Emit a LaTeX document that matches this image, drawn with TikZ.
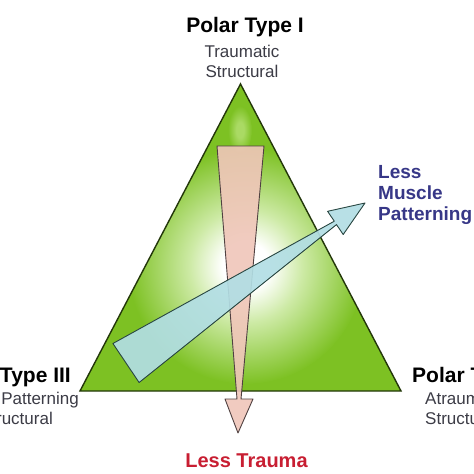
\documentclass[tikz,border=0pt]{standalone}
\usepackage{fontspec}
\setmainfont{Liberation Sans}
\definecolor{tgreen}{RGB}{125,193,35}
\definecolor{midgreen}{RGB}{205,234,165}
\definecolor{hlgreen}{RGB}{170,218,100}
\definecolor{tborder}{RGB}{35,55,10}
\definecolor{redfill}{RGB}{240,198,186}
\definecolor{redline}{RGB}{80,65,65}
\definecolor{bluefill}{RGB}{178,222,228}
\definecolor{blueline}{RGB}{40,70,65}
\definecolor{subgray}{RGB}{60,60,70}
\definecolor{musclecol}{RGB}{55,55,135}
\definecolor{traumacol}{RGB}{200,30,50}
\pgfdeclareradialshading{glow}{\pgfpoint{0bp}{0bp}}{color(0bp)=(white); color(5bp)=(white); color(12bp)=(midgreen); color(25bp)=(tgreen); color(50bp)=(tgreen)}
\pgfdeclareradialshading{tophl}{\pgfpoint{0bp}{0bp}}{color(0bp)=(hlgreen); color(8bp)=(hlgreen); color(25bp)=(tgreen); color(50bp)=(tgreen)}
\tikzset{
  title/.style={font=\fontsize{21}{21}\selectfont\bfseries, text=black, inner sep=0pt},
  sublabel/.style={font=\fontsize{17}{17}\selectfont, text=subgray, inner sep=0pt},
  muscle/.style={font=\fontsize{19}{19}\selectfont\bfseries, text=musclecol, inner sep=0pt},
  trauma/.style={font=\fontsize{20}{20}\selectfont\bfseries, text=traumacol, inner sep=0pt},
  redarrow/.style={fill=redfill, fill opacity=0.9, draw=redline, line width=0.9pt, line join=round},
  bluearrow/.style={fill=bluefill, fill opacity=0.92, draw=blueline, line width=0.9pt, line join=round},
}
\begin{document}
\begin{tikzpicture}[x=1pt,y=-1pt]
\useasboundingbox (0,0) rectangle (474,474);
\clip (0,0) rectangle (474,474);
\fill[white] (0,0) rectangle (474,474);
% triangle
\coordinate (apex) at (240.5,84);
\coordinate (bl) at (80,391);
\coordinate (br) at (401,391);
\begin{scope}
  \clip (apex) -- (br) -- (bl) -- cycle;
  \fill[tgreen] (0,0) rectangle (474,474);
  \shade[shading=glow] (246,266) circle (118);
  \shade[shading=tophl] (240,130) ellipse (12 and 24);
\end{scope}
\draw[tborder, line width=1.4pt, line join=miter] (apex) -- (br) -- (bl) -- cycle;
% red arrow (Less Trauma)
\draw[redarrow] (217,146) -- (264,146) -- (241,399) -- (253,399) -- (238,433) -- (225,399) -- (237,399) -- cycle;
% blue arrow (Less Muscle Patterning)
\draw[bluearrow] (112.9,343.5) -- (139.1,382.5) -- (336.5,224.6) -- (343.2,234.5) -- (365,203) -- (327.6,211.3) -- (334.3,221.2) -- cycle;
% labels
\node[title, anchor=base] (t1) at (245,32) {Polar Type I};
\node[sublabel, anchor=base] (t1a) at (242,57) {Traumatic};
\node[sublabel, anchor=base] (t1b) at (242,77) {Structural};
\node[title, anchor=base east] (t3) at (71,382) {Polar Type III};
\node[sublabel, anchor=base east] (t3a) at (79,404) {Muscle Patterning};
\node[sublabel, anchor=base east] (t3b) at (53,424) {Non-Structural};
\node[title, anchor=base west] (t2) at (412,382) {Polar Type II};
\node[sublabel, anchor=base west] (t2a) at (425,404) {Atraumatic};
\node[sublabel, anchor=base west] (t2b) at (425,424) {Structural};
\node[muscle, anchor=base west] (m1) at (378,178) {Less};
\node[muscle, anchor=base west] (m2) at (378,199) {Muscle};
\node[muscle, anchor=base west] (m3) at (378,220) {Patterning};
\node[trauma, anchor=base] (lt) at (246.5,467) {Less Trauma};
\end{tikzpicture}
\end{document}
